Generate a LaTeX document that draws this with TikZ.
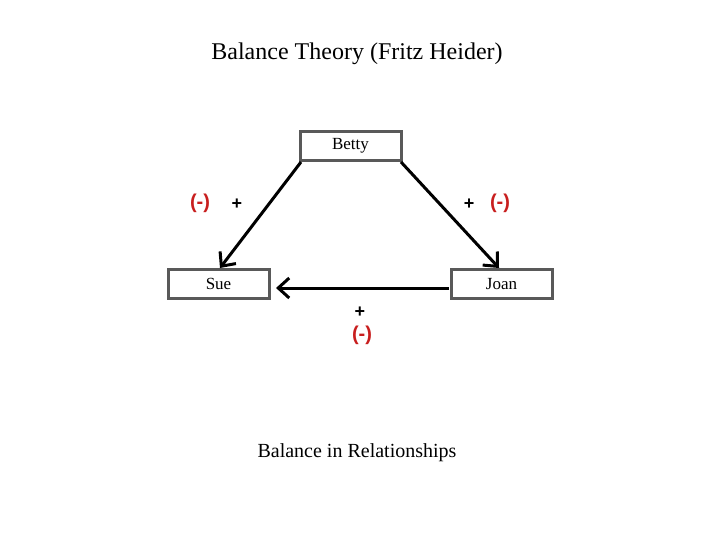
\documentclass[tikz,border=0pt]{standalone}
\usepackage{fontspec}
\setmainfont{Liberation Serif}
\newfontfamily\signfont{Liberation Sans}
\usetikzlibrary{arrows.meta}
\definecolor{signred}{RGB}{200,30,30}
\tikzset{
  box/.style={draw=gray!70!black, line width=3pt, fill=white, minimum width=101pt, minimum height=29pt, inner sep=0pt, font=\fontsize{17}{19}\selectfont},
  arr/.style={line width=3pt, -{Straight Barb[length=11pt,width=20pt]}},
  plus/.style={font=\signfont\bfseries\fontsize{18}{20}\selectfont},
  minus/.style={font=\signfont\bfseries\fontsize{20}{22}\selectfont, text=signred},
  lbl/.style={font=\fontsize{20}{24}\selectfont}
}
\begin{document}
\begin{tikzpicture}[x=1pt,y=-1pt]
\useasboundingbox (0,0) rectangle (720,540);
\node[lbl, font=\fontsize{24}{28}\selectfont] (title) at (357,54) {Balance Theory (Fritz Heider)};
\node[box] (betty) at (350.5,146) {Betty};
\node[box] (sue) at (218.5,284) {Sue};
\node[box] (joan) at (501.5,284) {Joan};
\coordinate (bl) at (301,162);
\coordinate (br) at (401,162);
\coordinate (st) at (220,268);
\coordinate (jt) at (499,268);
\coordinate (se) at (276,288);
\coordinate (jl) at (449,288);
\draw[arr] (bl) -- (st);
\draw[arr] (br) -- (jt);
\draw[arr] (jl) -- (se);
\node[minus] (m1) at (200,203) {(-)};
\node[plus] (p1) at (237,204) {+};
\node[plus] (p2) at (469,204) {+};
\node[minus] (m2) at (500,203) {(-)};
\node[plus] (p3) at (360,312) {+};
\node[minus] (m3) at (362,335) {(-)};
\node[lbl] (cap) at (357,453) {Balance in Relationships};
\end{tikzpicture}
\end{document}
